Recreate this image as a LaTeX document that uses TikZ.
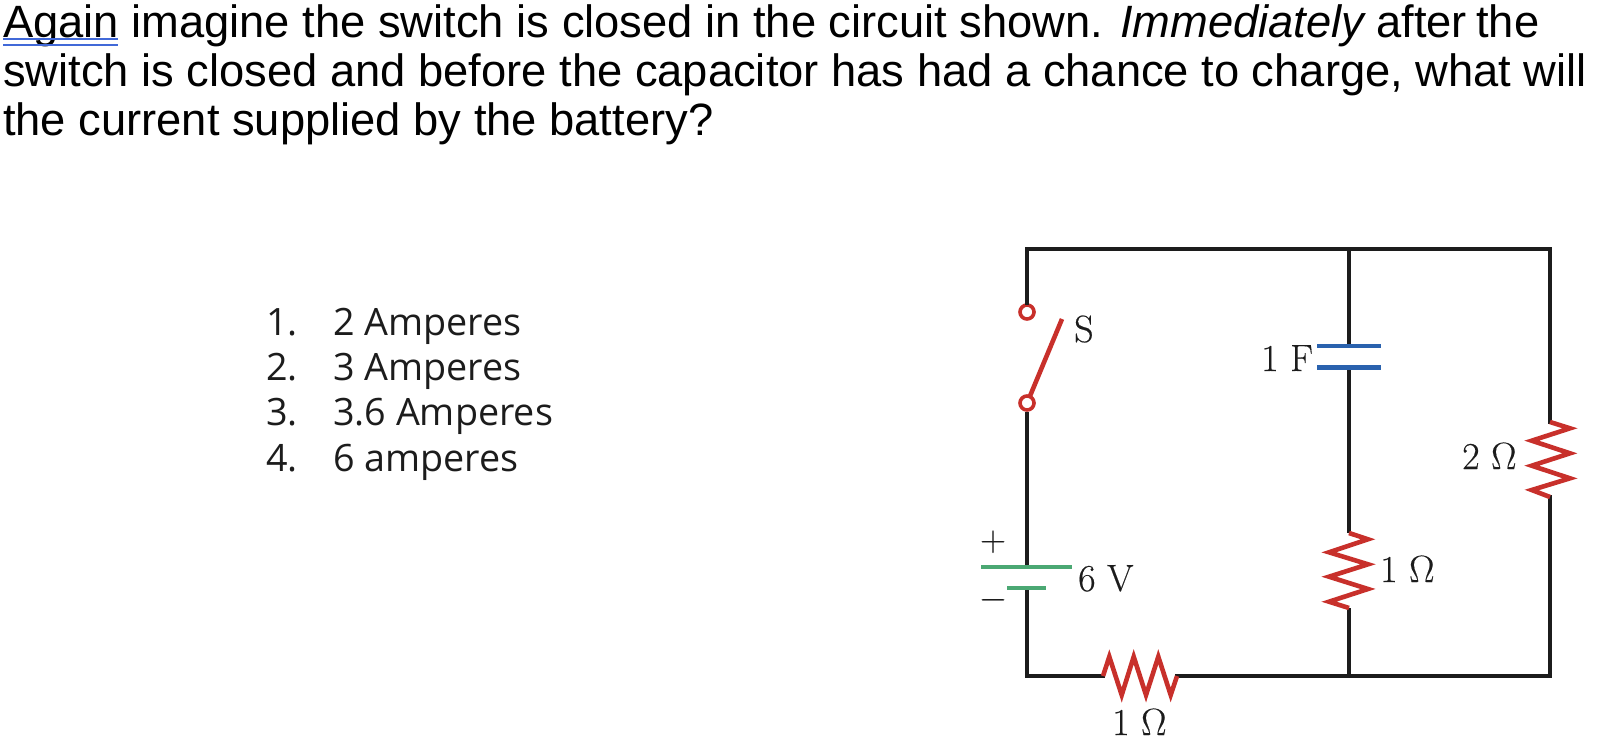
\documentclass[tikz,border=0pt]{standalone}
\usepackage{fontspec}
\newfontfamily\headfont{Liberation Sans}
\newfontfamily\listfont{Open Sans}
\newfontfamily\circfont[FakeBold=0.35]{Latin Modern Roman}
\definecolor{wirec}{HTML}{1C1C1C}
\definecolor{resc}{HTML}{C8302B}
\definecolor{capc}{HTML}{2A62AE}
\definecolor{batc}{HTML}{4BA873}
\definecolor{ulc}{HTML}{4169D8}
\tikzset{
  wire/.style={draw=wirec,line width=3.1pt},
  resistor/.style={draw=resc,line width=4.6pt,miter limit=10},
  capplate/.style={draw=capc,line width=4.6pt},
  batplate/.style={draw=batc,line width=4.6pt},
  blade/.style={draw=resc,line width=4.6pt},
  terminal/.style={circle,draw=resc,line width=3.6pt,fill=white,minimum size=14pt,inner sep=0pt},
  headline/.style={anchor=base west,inner sep=0pt,font=\headfont\fontsize{45.3}{49}\selectfont,text=black},
  listline/.style={anchor=base west,inner sep=0pt,font=\listfont\fontsize{37.7}{45}\selectfont,text=wirec},
  circlabel/.style={anchor=base west,inner sep=0pt,font=\circfont\fontsize{38}{44}\selectfont,text=wirec},
  signlabel/.style={inner sep=0pt,font=\circfont\fontsize{36}{40}\selectfont,text=wirec},
}
\begin{document}
\begin{tikzpicture}[x=1pt,y=-1pt]
\useasboundingbox (0,0) rectangle (1602,744);
% question text
\node[headline] (q1) at (3,37) {Again imagine the switch is closed in the circuit shown. \textit{Immediately}\hspace{9.5pt}after\hspace{9.5pt}the};
\node[headline] (q2) at (3,86) {switch is closed and before the capacitor has had a chance to charge, what will};
\node[headline] (q3) at (3,135) {the current supplied by the battery?};
\coordinate (ula) at (3,39); \coordinate (ulb) at (118,39);
\coordinate (ulc) at (3,44.7); \coordinate (uld) at (118,44.7);
\draw[ulc,line width=1.8pt] (ula) -- (ulb) (ulc) -- (uld);
% answers
\node[listline] (n1) at (266,335) {1.}; \node[listline] (a1) at (333,335) {2 Amperes};
\node[listline] (n2) at (266,380) {2.}; \node[listline] (a2) at (333,380) {3 Amperes};
\node[listline] (n3) at (266,425) {3.}; \node[listline] (a3) at (333,425) {3.6 Amperes};
\node[listline] (n4) at (266,471) {4.}; \node[listline] (a4) at (333,471) {6 amperes};
% junctions
\coordinate (tl) at (1027,249);
\coordinate (tm) at (1349,249);
\coordinate (tr) at (1550,249);
\coordinate (bl) at (1027,676);
\coordinate (bm) at (1349,676);
\coordinate (br) at (1550,676);
% element ends
\coordinate (batp) at (1027,567);
\coordinate (batn) at (1027,588);
\coordinate (capt) at (1349,346);
\coordinate (capb) at (1349,367.5);
\coordinate (rba) at (1103,676);
\coordinate (rbb) at (1177,676);
\coordinate (rma) at (1349,533);
\coordinate (rmb) at (1349,608);
\coordinate (rra) at (1550,422);
\coordinate (rrb) at (1550,497);
\node[terminal] (st) at (1027,312) {};
\node[terminal] (sb) at (1027,403) {};
\coordinate (bladeend) at (1062,319);
% wires
\draw[wire,line cap=rect] (st.north) -- (tl) -- (tm) -- (tr) -- (rra);
\draw[wire] (tm) -- (capt);
\draw[wire] (capb) -- (rma);
\draw[wire] (rmb) -- (bm);
\draw[wire] (sb.south) -- (batp);
\draw[wire,line cap=rect] (batn) -- (bl) -- (rba);
\draw[wire,line cap=rect] (rbb) -- (bm) -- (br) -- (rrb);
% switch
\draw[blade] (sb) ++(3,-7) coordinate (bladestart) -- (bladeend);
% capacitor
\coordinate (c1l) at (1317,346); \coordinate (c1r) at (1381,346);
\coordinate (c2l) at (1317,367.5); \coordinate (c2r) at (1381,367.5);
\draw[capplate] (c1l) -- (c1r);
\draw[capplate] (c2l) -- (c2r);
% battery
\coordinate (b1l) at (981,567); \coordinate (b1r) at (1072,567);
\coordinate (b2l) at (1007,588); \coordinate (b2r) at (1046,588);
\draw[batplate] (b1l) -- (b1r);
\draw[batplate] (b2l) -- (b2r);
% resistors
\draw[resistor] (rba) -- (1109.3,656.7) -- (1121.7,695) -- (1133.7,656.7) -- (1146,695) -- (1158.3,656.7) -- (1170.7,695) -- (rbb);
\draw[resistor] (rma) -- (1368,539.3) -- (1329,552.3) -- (1368,564.3) -- (1329,576.7) -- (1368,589) -- (1329,601.7) -- (rmb);
\draw[resistor] (rra) -- (1570,428.3) -- (1531.7,440.7) -- (1570,453.3) -- (1531.7,465.7) -- (1570,478.3) -- (1531.7,490) -- (rrb);
% labels
\node[circlabel] (ls) at (1074,342) {S};
\node[circlabel] (lc) at (1261,371) {1 F};
\node[circlabel] (lv) at (1078,591) {6 V};
\node[circlabel] (lrm) at (1380,582) {1 Ω};
\node[circlabel] (lrb) at (1112,735) {1 Ω};
\node[circlabel] (lrr) at (1462,469) {2 Ω};
\node[signlabel] (lp) at (993,541.7) {+};
\node[signlabel] (lm) at (993,604) {−};
\end{tikzpicture}
\end{document}
